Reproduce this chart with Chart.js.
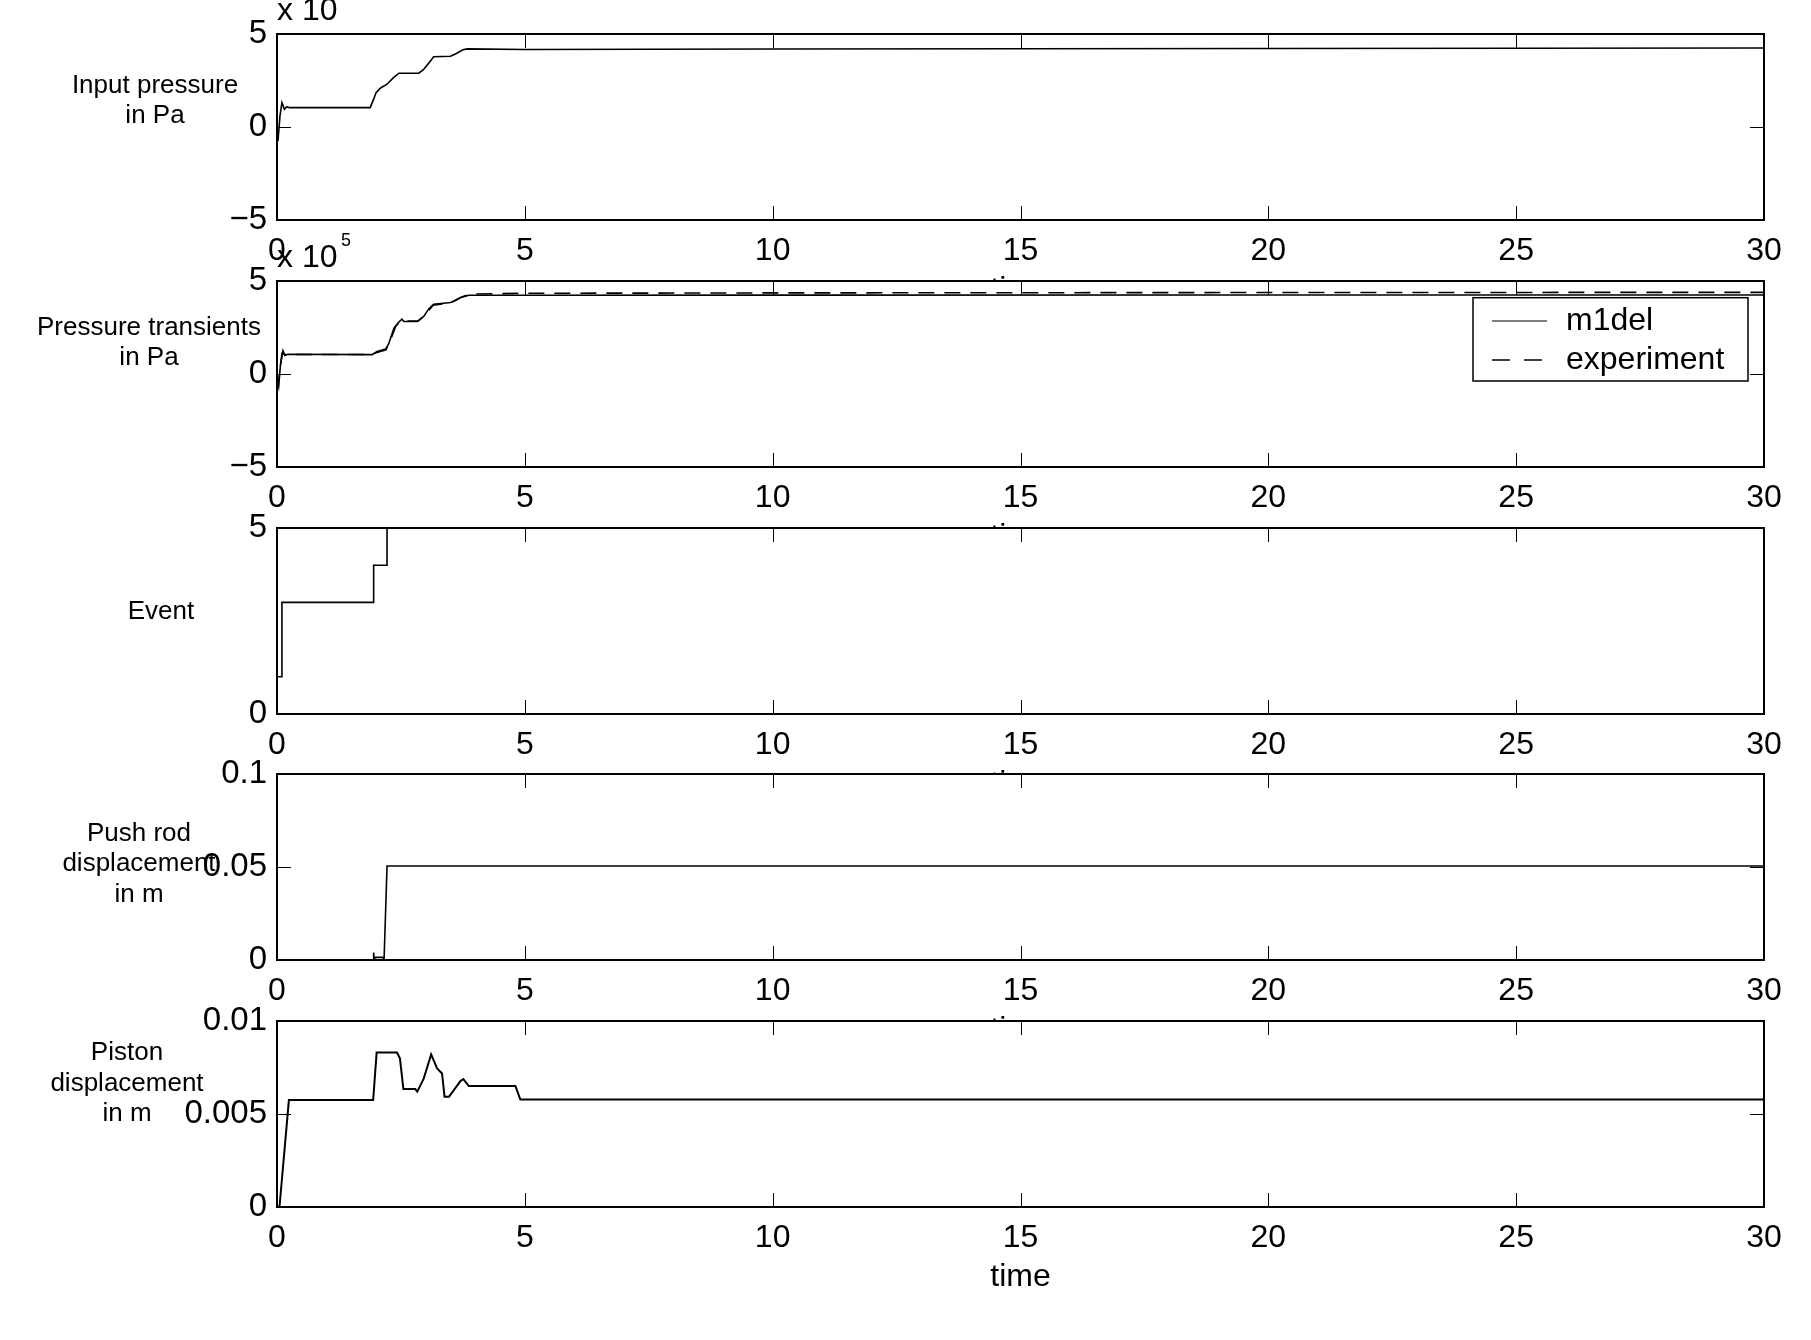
<!DOCTYPE html>
<html><head><meta charset="utf-8">
<script src="https://cdn.jsdelivr.net/npm/chart.js@4.4.1/dist/chart.umd.min.js"></script>
<style>
html,body{margin:0;padding:0;background:#fff;width:1811px;height:1340px;overflow:hidden;position:relative}
canvas{position:absolute;left:0}
</style></head><body>
<script>
// ---- data ----
const timeTicks = [0, 5, 10, 15, 20, 25, 30];

const tInput = [0, 0.02, 0.06, 0.1, 0.15, 0.2, 0.25, 1.88, 1.95, 2.0, 2.09, 2.22, 2.35, 2.46, 2.86, 2.96, 3.08, 3.16, 3.5, 3.62, 3.75, 3.84, 5, 10, 20, 30];
const pInput = [-13000, -75000, 60000, 131000, 95000, 109000, 104000, 104000, 150000, 185000, 210000, 230000, 265000, 289000, 289000, 310000, 350000, 378000, 380000, 395000, 415000, 420000, 417000, 419000, 422000, 425000];

const tModel = [0, 0.034, 0.07, 0.12, 0.16, 0.22, 1.92, 2.02, 2.19, 2.25, 2.36, 2.46, 2.52, 2.56, 2.83, 2.96, 3.06, 3.16, 3.5, 3.6, 3.7, 3.87, 5, 10, 20, 30];
const pModel = [-20000, -66000, 50000, 125000, 100000, 106000, 104000, 121000, 134000, 160000, 246000, 280000, 295000, 282000, 282000, 310000, 350000, 375000, 384000, 395000, 410000, 423000, 423000, 424000, 425000, 425000];

const tExp = [0, 0.03, 0.1, 0.15, 0.25, 1.9, 2.0, 2.2, 2.3, 2.4, 2.5, 2.85, 3.0, 3.15, 3.5, 3.7, 3.9, 5, 10, 20, 30];
const pExp = [-10000, -50000, 110000, 105000, 105000, 105000, 115000, 130000, 190000, 260000, 285000, 285000, 320000, 370000, 382000, 412000, 430000, 434000, 436000, 438000, 439000];

const tEvent = [0, 0.1, 1.95, 2.22, 30];
const eventVals = [1, 3, 4, 5, 5];

const tRod = [0, 1.94, 1.95, 1.96, 1.99, 2.14, 2.16, 2.22, 30];
const rodDisp = [0, 0, 0.004, 0.0006, 0.0014, 0.0014, 0, 0.0505, 0.0505];

const tPiston = [0, 0.05, 0.24, 1.94, 2.01, 2.42, 2.48, 2.55, 2.79, 2.83, 2.96, 3.11, 3.23, 3.33, 3.38, 3.47, 3.57, 3.70, 3.76, 3.87, 4.81, 4.91, 30];
const pistonDisp = [0, 0, 0.00575, 0.00575, 0.0083, 0.0083, 0.0080, 0.00634, 0.00634, 0.0062, 0.0069, 0.0082, 0.00745, 0.00718, 0.00593, 0.00593, 0.00629, 0.00677, 0.00688, 0.0065, 0.0065, 0.00578, 0.00578];

const yLabels = [
  ['Input pressure', 'in Pa'],
  ['Pressure transients', 'in Pa'],
  ['Event'],
  ['Push rod', 'displacement', 'in m'],
  ['Piston', 'displacement', 'in m']
];
const legendLabels = ['m1del', 'experiment'];
const xTitle = 'time';

// ---- layout ----
const FONT = '"Liberation Sans", Arial, Helvetica, sans-serif';
const PANEL_TOPS = [34, 281, 528, 774, 1021];
const PANEL_H = 186;
const PAD_TOP = 60, AXIS_H = 100, CANVAS_H = PAD_TOP + PANEL_H + AXIS_H;
const PLOT_LEFT = 277, PLOT_RIGHT = 1764;
const LABEL_POS = [
  {cx:155, base:[58.7, 88.7]},
  {cx:149, base:[54, 84]},
  {cx:161, base:[91.3]},
  {cx:139, base:[67, 97, 127.7]},
  {cx:127, base:[39, 69.7, 99.7]}
];

const pts = (xs, ys) => xs.map((x, i) => ({x, y: ys[i]}));

const matlabAxes = {
  id: 'matlabAxes',
  beforeDraw(chart) {
    const {ctx, chartArea: a} = chart;
    ctx.save();
    ctx.fillStyle = '#fff';
    ctx.fillRect(a.left, a.top, a.right - a.left, a.bottom - a.top);
    ctx.restore();
  },
  afterDraw(chart, args, opts) {
    const {ctx, chartArea: a} = chart;
    const xs = chart.scales.x, ys = chart.scales.y;
    ctx.save();
    ctx.strokeStyle = '#000';
    ctx.lineWidth = 1;
    const TL = 14;
    ctx.beginPath();
    xs.ticks.forEach(t => {
      const px = Math.round(xs.getPixelForValue(t.value)) + 0.5;
      ctx.moveTo(px, a.bottom); ctx.lineTo(px, a.bottom - TL);
      ctx.moveTo(px, a.top); ctx.lineTo(px, a.top + TL);
    });
    ys.ticks.forEach(t => {
      const py = Math.round(ys.getPixelForValue(t.value)) + 0.5;
      ctx.moveTo(a.left, py); ctx.lineTo(a.left + TL, py);
      ctx.moveTo(a.right, py); ctx.lineTo(a.right - TL, py);
    });
    ctx.stroke();
    ctx.lineWidth = 2;
    ctx.strokeRect(a.left, a.top, a.right - a.left, a.bottom - a.top);

    ctx.fillStyle = '#000';
    // y label
    const lp = opts.labelPos;
    ctx.font = '26px ' + FONT;
    ctx.textAlign = 'center';
    ctx.textBaseline = 'alphabetic';
    opts.label.forEach((s, i) => ctx.fillText(s, lp.cx, a.top + lp.base[i]));
    // x title (hidden by next panel except bottom one)
    ctx.font = '32px ' + FONT;
    ctx.textBaseline = 'middle';
    ctx.fillText(xTitle, (a.left + a.right) / 2, a.bottom + 70);
    // multiplier
    if (opts.mult) {
      ctx.textAlign = 'left';
      ctx.textBaseline = 'alphabetic';
      ctx.font = '32px ' + FONT;
      ctx.fillText('x 10', a.left, a.top - 14.3);
      ctx.font = '18px ' + FONT;
      ctx.fillText('5', a.left + 64, a.top - 35.5);
    }
    // legend
    if (opts.legend) {
      const bx = 1473, by = a.top + 16.7, bw = 275, bh = 83.3;
      ctx.fillStyle = '#fff';
      ctx.fillRect(bx, by, bw, bh);
      ctx.lineWidth = 1.5;
      ctx.strokeRect(bx, by, bw, bh);
      ctx.lineWidth = 1.2;
      ctx.beginPath(); ctx.moveTo(1492, a.top + 40); ctx.lineTo(1547, a.top + 40); ctx.stroke();
      ctx.setLineDash([18, 14]);
      ctx.lineWidth = 1.5;
      ctx.beginPath(); ctx.moveTo(1492, a.top + 79); ctx.lineTo(1547, a.top + 79); ctx.stroke();
      ctx.setLineDash([]);
      ctx.fillStyle = '#000';
      ctx.font = '32px ' + FONT;
      ctx.textAlign = 'left';
      ctx.textBaseline = 'middle';
      ctx.fillText(legendLabels[0], 1566, a.top + 40);
      ctx.fillText(legendLabels[1], 1566, a.top + 79);
    }
    ctx.restore();
  }
};

function fmtPlain(v) { const s = String(parseFloat(Number(v).toPrecision(6))); return s.replace('-', '\u2212'); }
function fmtE5(v) { const n = Math.round(v / 1e5); return n < 0 ? '\u2212' + (-n) : String(n); }

const panels = [
  {datasets:[{data:pts(tInput, pInput), borderWidth:1.6}], min:-5e5, max:5e5, step:5e5, fmt:fmtE5, mult:true},
  {datasets:[{data:pts(tModel, pModel), borderWidth:1.6}, {data:pts(tExp, pExp), borderWidth:1.6, borderDash:[16,10]}], min:-5e5, max:5e5, step:5e5, fmt:fmtE5, mult:true, legend:true},
  {datasets:[{data:pts(tEvent, eventVals), borderWidth:1.6, stepped:true}], min:0, max:5, step:5, fmt:fmtPlain},
  {datasets:[{data:pts(tRod, rodDisp), borderWidth:1.6}], min:0, max:0.1, step:0.05, fmt:fmtPlain},
  {datasets:[{data:pts(tPiston, pistonDisp), borderWidth:2}], min:0, max:0.01, step:0.005, fmt:fmtPlain}
];

panels.forEach((p, i) => {
  const cv = document.createElement('canvas');
  cv.width = 1811; cv.height = CANVAS_H;
  cv.style.width = '1811px'; cv.style.height = CANVAS_H + 'px';
  cv.style.top = (PANEL_TOPS[i] - PAD_TOP) + 'px';
  cv.style.zIndex = String(i + 1);
  document.body.appendChild(cv);
  p.datasets.forEach(d => { d.borderColor = '#000'; d.pointRadius = 0; d.tension = 0; d.fill = false; });
  new Chart(cv, {
    type: 'line',
    data: {datasets: p.datasets},
    plugins: [matlabAxes],
    options: {
      responsive: false, animation: false, events: [],
      devicePixelRatio: 1,
      layout: {padding: {top: PAD_TOP, left: 0, right: 1811 - PLOT_RIGHT, bottom: 0}},
      plugins: {
        legend: {display: false}, tooltip: {enabled: false}, title: {display: false},
        matlabAxes: {label: yLabels[i], labelPos: LABEL_POS[i], mult: !!p.mult, legend: !!p.legend}
      },
      scales: {
        x: {
          type: 'linear', position: 'bottom', min: timeTicks[0], max: timeTicks[timeTicks.length - 1],
          afterBuildTicks: s => { s.ticks = timeTicks.map(v => ({value: v})); },
          ticks: {font: {family: FONT, size: 32}, color: '#000', padding: 12, autoSkip: false, maxRotation: 0, callback: v => String(v)},
          grid: {display: false, drawTicks: false}, border: {display: false},
          afterFit: s => { s.height = AXIS_H; }
        },
        y: {
          type: 'linear', position: 'left', min: p.min, max: p.max,
          ticks: {stepSize: p.step, font: {family: FONT, size: 33}, color: '#000', padding: 10, autoSkip: false, callback: p.fmt},
          grid: {display: false, drawTicks: false}, border: {display: false},
          afterFit: s => { s.width = PLOT_LEFT; }
        }
      }
    }
  });
});
</script>
</body></html>
